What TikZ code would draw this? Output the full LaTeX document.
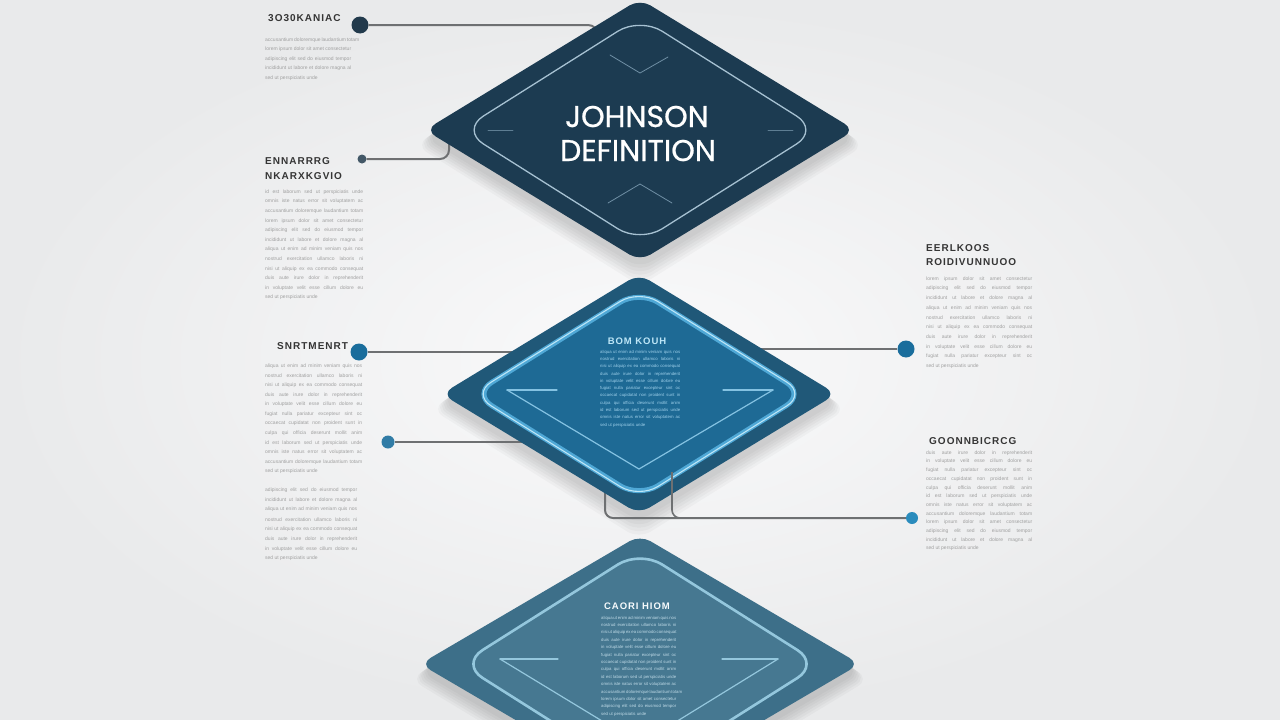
\documentclass[tikz,border=0pt]{standalone}
\usepackage{fontspec}
\setmainfont{Liberation Sans}
\newfontfamily\titlefont[FakeBold=0.7]{Poppins}
\newfontfamily\headfont[LetterSpace=10]{Liberation Sans}
\usetikzlibrary{shapes.geometric,calc}
\definecolor{bgin}{HTML}{FAFAFB}
\definecolor{bgout}{HTML}{E9EAEB}
\definecolor{navy}{HTML}{1C3B51}
\definecolor{navyline}{HTML}{A6C1D2}
\definecolor{navydeco}{HTML}{6F8FA4}
\definecolor{dtworim}{HTML}{205878}
\definecolor{dtwoin}{HTML}{1E6A95}
\definecolor{band}{HTML}{4FA8D6}
\definecolor{bandlight}{HTML}{BDE6F7}
\definecolor{dthreerim}{HTML}{3D6F89}
\definecolor{dthreein}{HTML}{467891}
\definecolor{dthreeband}{HTML}{94C7DD}
\definecolor{linec}{HTML}{6E7072}
\definecolor{dotnavy}{HTML}{223A4C}
\definecolor{dotblue}{HTML}{1A6D9C}
\definecolor{dotlight}{HTML}{2A8CBD}
\definecolor{headc}{HTML}{353535}
\definecolor{bodyc}{HTML}{A0A0A0}
\definecolor{dtwotext}{HTML}{9FD0EA}
\definecolor{dthreetext}{HTML}{BFDAE6}

\newcommand\fl[1]{\ifcase#1\relax lorem ipsum dolor sit amet consectetur\or
adipiscing elit sed do eiusmod tempor\or
incididunt ut labore et dolore magna al\or
aliqua ut enim ad minim veniam quis nos\or
nostrud exercitation ullamco laboris ni\or
nisi ut aliquip ex ea commodo consequat\or
duis aute irure dolor in reprehenderit\or
in voluptate velit esse cillum dolore eu\or
fugiat nulla pariatur excepteur sint oc\or
occaecat cupidatat non proident sunt in\or
culpa qui officia deserunt mollit anim\or
id est laborum sed ut perspiciatis unde\or
omnis iste natus error sit voluptatem ac\or
accusantium doloremque laudantium totam\else
lorem ipsum dolor sit amet consectetur\fi}

% #1 name, #2 x, #3 y0, #4 dy, #5 lines, #6 width, #7 style
\newcommand\bodyblock[7]{%
  \foreach \i in {1,...,#5}{%
    \pgfmathtruncatemacro\k{mod(\i+#3,14)}%
    \node[#7, name=#1-\i] at (#2,{#3+(\i-1)*#4})
      {\ifnum\i<#5\relax\makebox[#6pt][s]{\fl{\k}}\else\makebox[#6pt][l]{sed ut perspiciatis unde}\fi};
  }}

\begin{document}
\begin{tikzpicture}[x=1pt,y=-1pt,
  conn/.style={draw=linec, line width=2pt},
  dotnode/.style={circle, inner sep=0, minimum size=#1},
  dia/.style={diamond, inner sep=0, aspect=1},
  shadowdia/.style={diamond, inner sep=0, aspect=1, fill=black, opacity=0.028},
  head/.style={anchor=west, inner sep=0, font=\headfont\bfseries\fontsize{10}{12}\selectfont, text=headc},
  body/.style={anchor=west, inner sep=0, font=\fontsize{5}{5}\selectfont, text=bodyc},
  dbodytwo/.style={anchor=west, inner sep=0, font=\fontsize{4.3}{4.3}\selectfont, text=dtwotext},
  dbodythree/.style={anchor=west, inner sep=0, font=\fontsize{4.3}{4.3}\selectfont, text=dthreetext},
  deco/.style={line width=0.8pt, line cap=round},
]
\useasboundingbox (0,0) rectangle (1280,720);
\shade[inner color=bgin, outer color=bgout] (0,0) rectangle (1280,720);

% shadows
\foreach \s in {1,...,6}{
  \node[shadowdia, minimum width={426+4*\s}, minimum height={258+4*\s}, rounded corners=14pt, name=sha-\s] at (640,{136+1.5*\s}) {};
  \node[shadowdia, minimum width={392+4*\s}, minimum height={236+4*\s}, rounded corners=14pt, name=shb-\s] at (639,{400+1.5*\s}) {};
  \node[shadowdia, minimum width={436+4*\s}, minimum height={254+4*\s}, rounded corners=14pt, name=shc-\s] at (640,{670+1.5*\s}) {};
}

% dots
\node[dotnode=17pt, fill=dotnavy] (p1) at (360,25) {};
\node[dotnode=9pt, fill=dotnavy!85] (p2) at (362,159) {};
\node[dotnode=17pt, fill=dotblue] (p3) at (359,352) {};
\node[dotnode=13pt, fill=dotblue!90!white] (p4) at (388,442) {};
\node[dotnode=17pt, fill=dotblue] (p5) at (906,349) {};
\node[dotnode=12pt, fill=dotlight] (p6) at (912,518) {};

% hidden ends of connectors
\coordinate (c1) at (598,60);
\coordinate (c2) at (449,128);
\coordinate (c6a) at (605,478);
\coordinate (c6b) at (672,472);

% connectors behind diamonds
\draw[conn, rounded corners=10pt] (p1) -| (c1);
\draw[conn, rounded corners=9pt] (p2) -| (c2);
\draw[conn] (p3) -- (p3 -| 639,394);
\draw[conn] (p4) -- (p4 -| 639,394);
\draw[conn] (p5) -- (p5 -| 639,394);
\draw[conn, rounded corners=8pt] (c6a) |- (p6);

% diamond 1
\node[dia, fill=navy, minimum width=430, minimum height=262, rounded corners=12pt] (d1) at (640,130) {};
\node[dia, draw=navyline, line width=1.3pt, minimum width=358, minimum height=226, rounded corners=26pt] (d1in) at (640,130) {};
\draw[deco, draw=navydeco] (610,55) -- (640,73) -- (668,57);
\draw[deco, draw=navydeco] (608,203) -- (640,184) -- (672,203);
\draw[deco, draw=navydeco!80!navy] (488,130) -- (513,130);
\draw[deco, draw=navydeco!80!navy] (768,130) -- (793,130);
\node[font=\titlefont\fontsize{30}{30}\selectfont, text=white, anchor=base, inner sep=0] (t1) at (637,127) {JOHNSON};
\node[font=\titlefont\fontsize{30}{30}\selectfont, text=white, anchor=base, inner sep=0] (t2) at (638,161) {DEFINITION};

% diamond 2
\node[dia, fill=dtworim, minimum width=395, minimum height=240, rounded corners=12pt] (d2) at (639,394) {};
\node[dia, fill=dtwoin, draw=band, line width=5pt, minimum width=334, minimum height=209, rounded corners=22pt] (d2in) at (639,394) {};
\node[dia, draw=bandlight, line width=1.1pt, minimum width=334, minimum height=209, rounded corners=22pt] (d2inl) at (639,394) {};
\draw[line width=1.2pt, draw=band!70!white, line cap=round] (507,390) -- (557,390);
\draw[line width=1.2pt, draw=band!70!white, line cap=round] (507,390) -- (639,469) -- (773,390);
\draw[line width=1.2pt, draw=band!70!white, line cap=round] (723,390) -- (773,390);
\node[font=\headfont\bfseries\fontsize{9.5}{10}\selectfont, text=bandlight, inner sep=0] (bt) at (637,341) {BOM KOUH};
\bodyblock{bb}{600}{352}{7.3}{11}{80}{dbodytwo}

% connector over the rim
\draw[conn, line width=1.6pt, rounded corners=8pt] (c6b) |- (p6);

% diamond 3
\node[dia, fill=dthreerim, minimum width=440, minimum height=258, rounded corners=12pt] (d3) at (640,664) {};
\node[dia, fill=dthreein, draw=dthreeband, line width=2.6pt, minimum width=360, minimum height=228, rounded corners=26pt] (d3in) at (640,664) {};
\draw[line width=1.2pt, draw=dthreeband, line cap=round] (500,659) -- (558,659);
\draw[line width=1.2pt, draw=dthreeband, line cap=round] (500,659) -- (640,744) -- (778,659);
\draw[line width=1.2pt, draw=dthreeband, line cap=round] (722,659) -- (778,659);
\node[font=\headfont\bfseries\fontsize{9.5}{10}\selectfont, text=white!92!dthreeband, inner sep=0] (ct) at (637,606) {CAORI HIOM};
\bodyblock{cb}{601}{618}{7.4}{14}{75}{dbodythree}

% side text blocks
\node[head] (h1) at (268,18) {3O30KANIAC};
\bodyblock{tl}{265}{40}{9.5}{5}{86}{body}

\node[head] (h2a) at (265,161) {ENNARRRG};
\node[head] (h2b) at (265,176) {NKARXKGVIO};
\bodyblock{lb}{265}{192}{9.6}{12}{98}{body}

\node[head] (h3) at (277,346) {SNRTMENRT};
\bodyblock{lc}{265}{366}{9.6}{12}{97}{body}
\bodyblock{ld}{265}{490}{9.8}{8}{92}{body}

\node[head] (h4a) at (926,248) {EERLKOOS};
\node[head] (h4b) at (926,262) {ROIDIVUNNUOO};
\bodyblock{ra}{926}{279}{9.7}{10}{106}{body}

\node[head] (h5) at (929,441) {GOONNBICRCG};
\bodyblock{rb}{926}{453}{8.7}{12}{106}{body}
\end{tikzpicture}
\end{document}
